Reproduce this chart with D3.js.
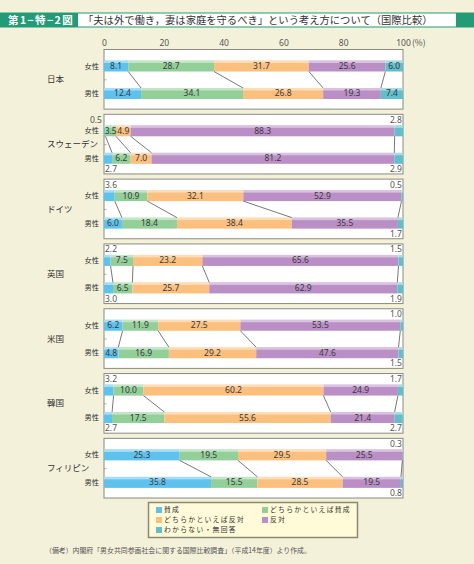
<!DOCTYPE html>
<html><head><meta charset="utf-8">
<script src="https://cdn.jsdelivr.net/npm/d3@7/dist/d3.min.js"></script>
<style>
html,body{margin:0;padding:0;background:#f4f1da;}
svg{display:block;font-family:"Noto Sans CJK JP","Noto Sans",sans-serif;}
</style></head><body>
<svg id="c" width="474" height="564"></svg>
<script>
const countries = ["日本","スウェーデン","ドイツ","英国","米国","韓国","フィリピン"];
const genders = ["女性","男性"];
const categories = ["賛成","どちらかといえば賛成","どちらかといえば反対","反対","わからない・無回答"];
const colors = ["#5ec2ee","#93cf98","#fbbf7e","#ba8fc6","#5fbfcc"];
const female = [
  [8.1,28.7,31.7,25.6,6.0],
  [0.5,3.5,4.9,88.3,2.8],
  [3.6,10.9,32.1,52.9,0.5],
  [2.2,7.5,23.2,65.6,1.5],
  [6.2,11.9,27.5,53.5,1.0],
  [3.2,10.0,60.2,24.9,1.7],
  [25.3,19.5,29.5,25.5,0.3]
];
const male = [
  [12.4,34.1,26.8,19.3,7.4],
  [2.7,6.2,7.0,81.2,2.9],
  [6.0,18.4,38.4,35.5,1.7],
  [3.0,6.5,25.7,62.9,1.9],
  [4.8,16.9,29.2,47.6,1.5],
  [2.7,17.5,55.6,21.4,2.7],
  [35.8,15.5,28.5,19.5,0.8]
];
const ticks = [0,20,40,60,80,100];
const title = "「夫は外で働き，妻は家庭を守るべき」という考え方について（国際比較）";
const figLabel = "第1−特−2図";
const note = "（備考）内閣府「男女共同参画社会に関する国際比較調査」（平成14年度）より作成。";

const svg = d3.select("#c");
const W = 474;

// header
svg.append("rect").attr("x",0).attr("y",12.5).attr("width",W).attr("height",15).attr("fill","#229b77");
svg.append("rect").attr("x",78).attr("y",13.5).attr("width",378).attr("height",13).attr("fill","#ffffff");
svg.append("text").attr("x",8).attr("y",24.3).attr("fill","#fff").attr("font-size",10.5).attr("font-weight","bold")
  .attr("letter-spacing",1.4).text(figLabel);
svg.append("text").attr("x",83).attr("y",24.3).attr("fill","#333").attr("font-size",10.3).text(title);

const x = d3.scaleLinear().domain([0,100]).range([104,403]);
const panelY = d3.scaleBand().domain(countries).range([49.5, 498]).paddingInner(0.08).paddingOuter(0);
const ph = panelY.bandwidth();
const barOff = {"女性":11, "男性":38.5};
const barH = 11;

// axis
const axisG = svg.append("g").attr("transform","translate(0,47)")
  .call(d3.axisTop(x).tickValues(ticks).tickSize(0).tickPadding(0).tickFormat(d3.format("d")));
axisG.select(".domain").remove();
axisG.selectAll("text").attr("font-size",8.5).attr("fill","#555").attr("dy","-0.1em")
  .attr("font-family","'Noto Sans',sans-serif");
svg.append("text").attr("x",412).attr("y",47).attr("dy","-0.1em").attr("font-size",8.5).attr("fill","#555").text("(%)");

const fmt = d3.format(".1f");

countries.forEach((c,i)=>{
  const py = panelY(c);
  const g = svg.append("g");
  g.append("rect").attr("x",x(0)).attr("y",py).attr("width",x(100)-x(0)).attr("height",ph)
    .attr("fill","#fff").attr("stroke","#8a8a80").attr("stroke-width",1);
  g.append("line").attr("x1",x(0)).attr("x2",x(0)+2.5).attr("y1",py+ph/2+0.5).attr("y2",py+ph/2+0.5)
    .attr("stroke","#999").attr("stroke-width",0.8);
  g.append("text").attr("x",47).attr("y",py+ph/2).attr("dy","0.35em").attr("font-size",8.5).attr("fill","#333").text(c);

  const rows = {"女性":female[i],"男性":male[i]};
  const stacks = {};
  genders.forEach(gd=>{
    const vals = rows[gd];
    let cum = 0;
    const segs = vals.map((v,k)=>{ const s={k,v,x0:cum,x1:Math.min(100,cum+v)}; cum+=v; return s;});
    stacks[gd]=segs;
    const by = py + barOff[gd];
    g.append("text").attr("x",99).attr("y",by+barH/2).attr("dy","0.35em").attr("text-anchor","end")
      .attr("font-size",7.3).attr("fill","#333").text(gd);
    g.selectAll(null).data(segs).enter().append("rect")
      .attr("x",d=>x(d.x0)).attr("y",by).attr("width",d=>x(d.x1)-x(d.x0)).attr("height",barH)
      .attr("fill",d=>colors[d.k]);
    g.append("rect").attr("x",x(0)).attr("y",by).attr("width",x(100)-x(0)).attr("height",2.5)
      .attr("fill","#fff").attr("opacity",0.45);
    segs.forEach(d=>{
      const small = (d.k===0 || d.k===4) && d.v < 4;
      let tx, ty, anchor;
      if(!small){
        tx = (x(d.x0)+x(d.x1))/2; ty = by+barH/2; anchor="middle";
      } else {
        ty = gd==="女性" ? py+5.5 : py+ph-5;
        if(d.k===0){
          if(d.v<1){ tx = x(0)-2; anchor="end"; }
          else { tx = x(0)+1; anchor="start"; }
        } else { tx = x(100)-1; anchor="end"; }
      }
      g.append("text").attr("x",tx).attr("y",ty).attr("dy","0.35em").attr("text-anchor",anchor)
        .attr("font-size",8.5).attr("fill", small ? "#555" : "#3a3a3a")
        .attr("font-family","'Noto Sans',sans-serif").text(fmt(d.v));
    });
  });
  const fy = py + barOff["女性"] + barH, my = py + barOff["男性"];
  [0,1,2,3].forEach(k=>{
    g.append("line").attr("x1",x(stacks["女性"][k].x1)).attr("y1",fy)
      .attr("x2",x(stacks["男性"][k].x1)).attr("y2",my)
      .attr("stroke","#555").attr("stroke-width",0.8);
  });
});

// legend
const lg = svg.append("g");
lg.append("rect").attr("x",148.5).attr("y",502.5).attr("width",209).attr("height",35)
  .attr("fill","#fffbd9").attr("stroke","#8b8a70").attr("stroke-width",1.5);
const legPos = [[156,510],[262,510],[156,520],[262,520],[156,530]];
categories.forEach((cat,k)=>{
  const [lx,ly] = legPos[k];
  lg.append("rect").attr("x",lx).attr("y",ly-3).attr("width",6).attr("height",6).attr("fill",colors[k]);
  lg.append("text").attr("x",lx+8).attr("y",ly).attr("dy","0.35em").attr("font-size",6.8)
    .attr("letter-spacing",1.3).attr("fill","#333").text(cat);
});

svg.append("text").attr("x",45).attr("y",551).attr("dy","0.35em").attr("font-size",6.9).attr("fill","#555").text(note);
</script>
</body></html>
